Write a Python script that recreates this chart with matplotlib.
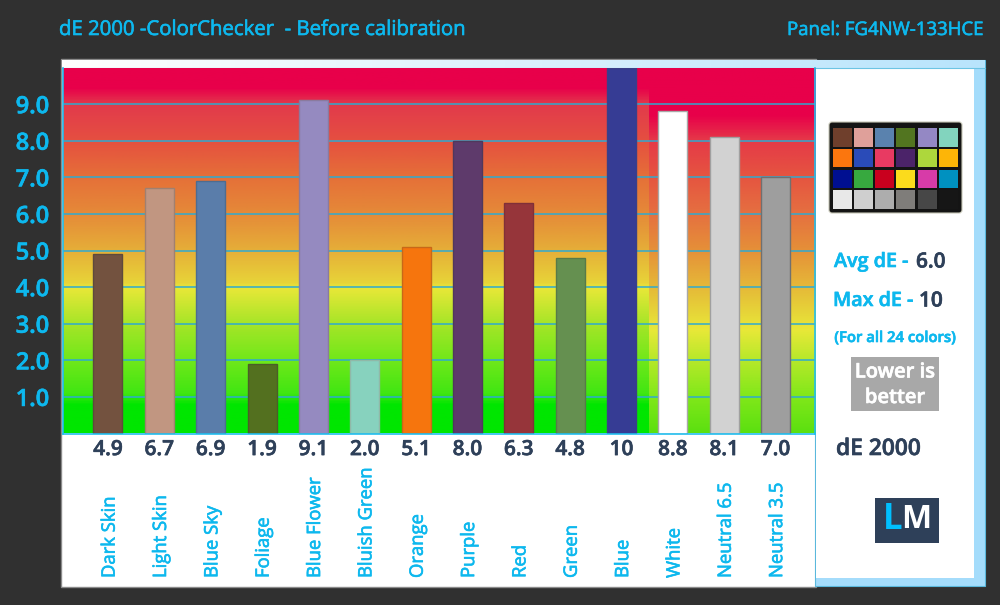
import numpy as np
import matplotlib
matplotlib.use("Agg")
import matplotlib.pyplot as plt
import matplotlib.patheffects as pe
from matplotlib.colors import LinearSegmentedColormap
from matplotlib.patches import Rectangle, FancyBboxPatch

plt.rcParams['font.family'] = ['Open Sans', 'Noto Sans', 'DejaVu Sans']

W, H = 1000, 605
categories = ["Dark Skin", "Light Skin", "Blue Sky", "Foliage", "Blue Flower", "Bluish Green", "Orange",
              "Purple", "Red", "Green", "Blue", "White", "Neutral 6.5", "Neutral 3.5"]
values = [4.9, 6.7, 6.9, 1.9, 9.1, 2.0, 5.1, 8.0, 6.3, 4.8, 10, 8.8, 8.1, 7.0]
value_labels = ["4.9", "6.7", "6.9", "1.9", "9.1", "2.0", "5.1", "8.0", "6.3", "4.8", "10", "8.8", "8.1", "7.0"]
bar_colors = ["#73523F", "#C19681", "#5A7DAA", "#53701F", "#958AC0", "#87D2BE", "#F6750D", "#5E3A6B",
              "#96353A", "#659050", "#363C94", "#FFFFFF", "#D2D2D2", "#9E9E9E"]
edge_colors = ["#5E4A3C", "#A08070", "#4E6C90", "#4A5E28", "#8A7A9E", "#90B8A8", "#C86818", "#50385C",
               "#803038", "#587A48", "#3A4088", "#A8A8A8", "#A0A0A0", "#707070"]
y_ticks = [1, 2, 3, 4, 5, 6, 7, 8, 9]
y_tick_labels = ["1.0", "2.0", "3.0", "4.0", "5.0", "6.0", "7.0", "8.0", "9.0"]
checker_colors = ["#6F3F2C", "#DFA09A", "#5A82AE", "#527520", "#9488C4", "#82D4BE",
                  "#FB760E", "#2A4BB8", "#E83A62", "#4B2369", "#ADD73C", "#FDB507",
                  "#000F91", "#37A93F", "#C9001E", "#FBDB1C", "#D73BA8", "#0091C0",
                  "#E8E8E8", "#CFCFCF", "#ADADAD", "#7F7D7A", "#474747", "#161616"]
main_stops = [(0, "#00E600"), (0.75, "#00E600"), (1.05, "#40E612"), (2, "#72E81A"), (3, "#A8E528"),
              (3.95, "#E8E838"), (4.1, "#E8D438"), (5, "#E5AE38"), (6, "#E58A38"), (7, "#E57038"),
              (8, "#E55040"), (9, "#E23A4C"), (9.45, "#E8004A"), (10, "#E8004A")]
side_stops = [(0, "#5CE010"), (1, "#82E81A"), (2, "#B8E82A"), (2.8, "#E8E838"), (4, "#E5B838"),
              (5, "#E59038"), (6, "#E57040"), (7, "#E55540"), (8, "#E53A48"), (8.7, "#E8004A"), (10, "#E8004A")]
BLUE = "#0DB8EE"
NAVY = "#2E4059"
LIGHT = "#A4DCFB"


def fig_axes(x0, y0, x1, y1, **kw):
    return fig.add_axes([x0 / W, 1 - y1 / H, (x1 - x0) / W, (y1 - y0) / H], **kw)


def ramp(stops):
    cm = LinearSegmentedColormap.from_list("r", [(v / 10, c) for v, c in stops])
    return cm(np.linspace(1, 0, 400))[:, None, :]


def heavy(t, w=0.45):
    t.set_path_effects([pe.withStroke(linewidth=w, foreground=t.get_color())])
    return t


fig = plt.figure(figsize=(W / 100, H / 100), dpi=100, facecolor="#303030")
bg = fig_axes(0, 0, W, H, zorder=0)
bg.axis("off")
bg.add_patch(Rectangle((61, 59), 755, 528, fc="white", ec="#8A8A8A", lw=1))
bg.add_patch(Rectangle((815, 60), 170, 526, fc=LIGHT, ec="#5AB8DC", lw=0.8))
bg.add_patch(Rectangle((816, 68), 158, 510, fc="white", ec="none"))
top = np.linspace(0, 1, 256)[None, :, None] * (np.array([0xB8, 0xE4, 0xFC]) / 255 - 1) + 1
bg.imshow(top, extent=(62, 985, 68, 60), aspect="auto", zorder=1)
bg.set_xlim(0, W)
bg.set_ylim(H, 0)
bg.plot([62, 985], [67.5, 67.5], color="#6CC4E4", lw=0.8, zorder=2)

# Main plot
ax = fig_axes(63, 67.5, 815, 433.5, zorder=2)
step = 51.35
xl = (-(108 - 63) / step, 13 + (815 - 775.5) / step)
x_split = 11 - (673 - 649) / step
ax.imshow(ramp(main_stops), extent=(xl[0], x_split, 0, 10), aspect="auto", zorder=0)
ax.imshow(ramp(side_stops), extent=(x_split, xl[1], 0, 10), aspect="auto", zorder=0)
ax.set_xlim(*xl)
ax.set_ylim(0, 10)
x = np.arange(len(values))
ax.hlines(y_ticks, *xl, color="#2FAAD0", lw=1.1, zorder=1)
ax.bar(x, values, width=29 / step, color=bar_colors, edgecolor=edge_colors, linewidth=1, zorder=2)
ax.set_yticks(y_ticks, y_tick_labels, color=BLUE, fontsize=17, fontweight="semibold")
ax.set_xticks(x, value_labels, color=NAVY, fontsize=15, fontweight="semibold")
ax.tick_params(length=0)
ax.tick_params(axis="y", pad=10)
ax.tick_params(axis="x", pad=4)
for t in ax.get_xticklabels() + ax.get_yticklabels():
    heavy(t)
for s in ax.spines.values():
    s.set_visible(False)
for s in ("left", "bottom", "right"):
    ax.spines[s].set_visible(True)
    ax.spines[s].set_color("#22BDEE")
    ax.spines[s].set_linewidth(1.2)
for xi, name in zip(x, categories):
    heavy(ax.annotate(name, xy=(xi, 0), xycoords="data", xytext=(1.2, -(578 - 433.5) * 0.72), textcoords="offset points",
                      rotation=90, ha="center", va="bottom", color=BLUE, fontsize=13.3, fontweight="medium"))

# Overlay text
ov = fig_axes(0, 0, W, H, zorder=3)
ov.set_xlim(0, W)
ov.set_ylim(H, 0)
ov.axis("off")
ov.patch.set_alpha(0)
heavy(ov.text(59, 30, "dE 2000 -ColorChecker  - Before calibration", color=BLUE, fontsize=14.65, fontweight="medium", va="center"))
heavy(ov.text(984, 30, "Panel: FG4NW-133HCE", color=BLUE, fontsize=13.4, fontweight="medium", va="center", ha="right"))

# ColorChecker
ov.add_patch(FancyBboxPatch((829, 122), 133, 91, boxstyle="round,pad=0,rounding_size=3", fc="#141414", ec="#C8C8B8", lw=0.8))
cols, rows = 6, 4
for k, c in enumerate(checker_colors):
    cx = 832.7 + (k % cols) * 21.2
    cy = 128 + (k // cols) * 20.8
    ov.add_patch(Rectangle((cx, cy), 19, 18.5, fc=c, ec="none"))

heavy(ov.text(834, 262, "Avg dE -", color=BLUE, fontsize=14.2, fontweight="semibold", va="center"))
heavy(ov.text(916, 262, "6.0", color=NAVY, fontsize=15, fontweight="semibold", va="center"))
heavy(ov.text(833, 301, "Max dE -", color=BLUE, fontsize=14.2, fontweight="semibold", va="center"))
heavy(ov.text(919, 301, "10", color=NAVY, fontsize=15, fontweight="semibold", va="center"))
heavy(ov.text(895.5, 338, "(For all 24 colors)", color=BLUE, fontsize=10.7, fontweight="semibold", va="center", ha="center"))
ov.add_patch(Rectangle((851, 357), 88, 54, fc="#A8A8A8", ec="none"))
heavy(ov.text(895, 372.5, "Lower is", color="white", fontsize=14.5, fontweight="semibold", va="center", ha="center"))
heavy(ov.text(895, 398, "better", color="white", fontsize=14.5, fontweight="semibold", va="center", ha="center"))
heavy(ov.text(836, 449, "dE 2000", color=NAVY, fontsize=16.4, fontweight="semibold", va="center"))
ov.add_patch(Rectangle((875, 498), 64, 45, fc=NAVY, ec="none"))
ov.text(893, 520, "L", color="#00BFFF", fontsize=25, fontweight="bold", va="center", ha="center")
ov.text(916, 520, "M", color="white", fontsize=23, fontweight="bold", va="center", ha="center")

fig.savefig("out.png", dpi=100, facecolor=fig.get_facecolor())
